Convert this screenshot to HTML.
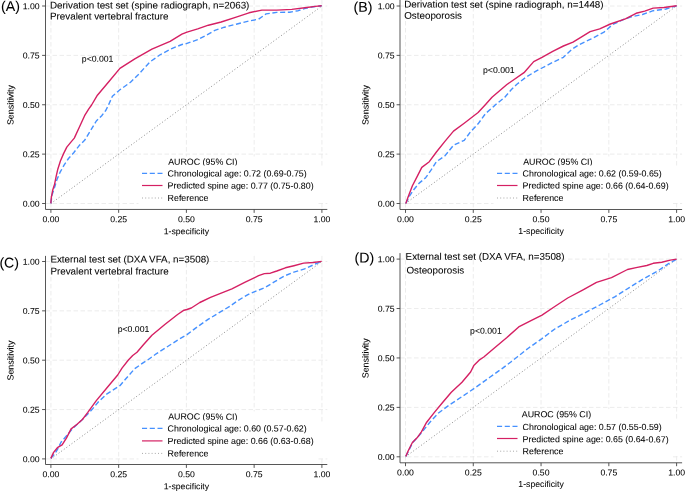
<!DOCTYPE html>
<html lang="en"><head><meta charset="utf-8"><title>ROC curves</title>
<style>html,body{margin:0;padding:0;background:#fff}svg{display:block}.t{stroke:#000;stroke-width:0.05px}</style></head>
<body>
<svg width="685" height="491" viewBox="0 0 685 491" font-family="'Liberation Sans', sans-serif" fill="#000">
<rect width="685" height="491" fill="#fff"/>
<g id="panelA">
<path d="M50.90 0.05V209.45M45.50 203.50H327.30M118.65 0.05V209.45M45.50 154.12H327.30M186.40 0.05V209.45M45.50 104.75H327.30M254.15 0.05V209.45M45.50 55.38H327.30M321.90 0.05V209.45M45.50 6.00H327.30" fill="none" stroke="#e7e7e7" stroke-width="0.8" stroke-dasharray="4.5 2.5"/>
<path d="M50.90 203.50L321.90 6.00" fill="none" stroke="#8c8c8c" stroke-width="1" stroke-dasharray="1 2.2"/>
<path d="M50.8 203.4L52.1 194.8L54.6 187.3L56.8 179.9L60.0 172.4L64.2 164.9L68.5 158.5L73.9 152.5L79.2 145.6L84.6 140.3L89.9 131.7L96.3 121.0L101.7 115.7L105.9 110.3L108.5 105.0L112.4 96.2L119.9 89.8L130.5 82.3L139.1 73.8L149.8 62.0L160.5 54.5L171.2 48.8L181.9 44.5L187.0 43.4L197.7 39.6L206.2 35.3L214.8 30.4L224.4 27.2L236.2 24.2L249.0 21.0L258.6 19.2L266.1 13.9L276.8 12.4L289.7 12.2L298.2 10.7L304.6 8.6L313.2 6.8L321.7 5.8" fill="none" stroke="#4691ff" stroke-width="1.4" stroke-dasharray="5.1 2.65" stroke-linejoin="round"/>
<path d="M50.8 203.4L51.4 197.0L52.9 189.5L54.6 184.1L56.1 176.6L57.8 169.2L60.4 161.0L63.8 153.1L66.8 147.1L70.7 142.4L74.3 138.1L79.2 127.5L84.6 115.7L88.8 108.8L91.6 105.0L97.4 95.2L109.2 81.3L119.9 68.4L134.8 58.8L151.9 49.2L170.1 41.3L181.9 34.2L187.0 32.1L197.7 28.9L208.4 25.2L221.2 22.0L236.2 17.1L249.0 12.8L261.9 10.1L276.8 10.1L291.8 9.4L306.8 7.5L315.3 6.4L321.7 5.8" fill="none" stroke="#d52063" stroke-width="1.4" stroke-linejoin="round"/>
<path d="M45.50 0.05V209.45H327.30M50.90 209.45v3.4M45.50 203.50h-3.4M118.65 209.45v3.4M45.50 154.12h-3.4M186.40 209.45v3.4M45.50 104.75h-3.4M254.15 209.45v3.4M45.50 55.38h-3.4M321.90 209.45v3.4M45.50 6.00h-3.4" fill="none" stroke="#444" stroke-width="0.9"/>
<g font-size="8.7">
<text transform="matrix(1 0.0006 0 1 50.90 222.25)" text-anchor="middle" class="t">0.00</text>
<text transform="matrix(1 0.0006 0 1 39.60 206.75)" text-anchor="end" class="t">0.00</text>
<text transform="matrix(1 0.0006 0 1 118.65 222.25)" text-anchor="middle" class="t">0.25</text>
<text transform="matrix(1 0.0006 0 1 39.60 157.38)" text-anchor="end" class="t">0.25</text>
<text transform="matrix(1 0.0006 0 1 186.40 222.25)" text-anchor="middle" class="t">0.50</text>
<text transform="matrix(1 0.0006 0 1 39.60 108.00)" text-anchor="end" class="t">0.50</text>
<text transform="matrix(1 0.0006 0 1 254.15 222.25)" text-anchor="middle" class="t">0.75</text>
<text transform="matrix(1 0.0006 0 1 39.60 58.62)" text-anchor="end" class="t">0.75</text>
<text transform="matrix(1 0.0006 0 1 321.90 222.25)" text-anchor="middle" class="t">1.00</text>
<text transform="matrix(1 0.0006 0 1 39.60 9.25)" text-anchor="end" class="t">1.00</text>
</g>
<text transform="matrix(1 0.0006 0 1 186.40 234.25)" font-size="8.7" text-anchor="middle" class="t">1-specificity</text>
<text transform="translate(13.50 105.05) rotate(-90) matrix(1 0.0006 0 1 0 0)" font-size="8.9" text-anchor="middle" class="t">Sensitivity</text>
<text transform="matrix(1.013 0.0006 0 1 50.00 8.50)" font-size="9.7" class="t">Derivation test set (spine radiograph, n=2063)</text>
<text transform="matrix(1.013 0.0006 0 1 50.00 19.40)" font-size="9.7" class="t">Prevalent vertebral fracture</text>
<text transform="matrix(1 0.0006 0 1 1.00 11.10)" font-size="14.2" fill="#000" class="t">(A)</text>
<text transform="matrix(1 0.0006 0 1 81.80 61.70)" font-size="8.7" class="t">p&lt;0.001</text>
<rect x="138.50" y="156.50" width="179" height="51.35" fill="#fff"/>
<rect x="138.50" y="167.00" width="185.5" height="35.20" fill="#fff"/>
<g font-size="8.85">
<text transform="matrix(1 0.0006 0 1 168.20 164.70)" class="t">AUROC (95% CI)</text>
<rect x="165.60" y="165.50" width="80" height="2.5" fill="#fff"/>
<text transform="matrix(1 0.0006 0 1 167.60 176.50)" class="t">Chronological age: 0.72 (0.69-0.75)</text>
<text transform="matrix(1 0.0006 0 1 167.60 188.60)" class="t">Predicted spine age: 0.77 (0.75-0.80)</text>
<text transform="matrix(1 0.0006 0 1 167.60 201.10)" class="t">Reference</text>
</g>
<path d="M142.00 173.40H162.50" stroke="#4691ff" stroke-width="1.2" stroke-dasharray="5.1 2.65" fill="none"/>
<path d="M142.00 185.50H162.50" stroke="#d52063" stroke-width="1.2" fill="none"/>
<path d="M142.00 198.00H162.50" stroke="#a8a8a8" stroke-width="1" stroke-dasharray="1 2.2" fill="none"/>
</g>
<g id="panelB">
<path d="M405.50 0.00V209.50M400.00 203.50H682.10M473.27 0.00V209.50M400.00 154.12H682.10M541.05 0.00V209.50M400.00 104.75H682.10M608.83 0.00V209.50M400.00 55.38H682.10M676.60 0.00V209.50M400.00 6.00H682.10" fill="none" stroke="#e7e7e7" stroke-width="0.8" stroke-dasharray="4.5 2.5"/>
<path d="M405.50 203.50L676.60 6.00" fill="none" stroke="#8c8c8c" stroke-width="1" stroke-dasharray="1 2.2"/>
<path d="M405.8 203.4L409.6 195.9L413.9 189.5L419.2 183.1L425.7 177.7L431.0 170.2L436.4 161.7L444.9 155.9L453.5 145.2L464.2 140.3L470.6 131.7L478.1 123.8L485.5 113.6L494.1 106.1L495.2 105.0L504.8 97.3L511.2 89.8L516.6 84.5L526.2 77.0L536.9 70.6L542.0 68.0L552.7 62.4L563.4 57.3L571.9 49.2L579.4 44.5L591.2 38.9L604.0 32.1L612.6 24.6L624.3 19.2L631.8 16.7L642.5 14.5L653.2 10.7L666.0 9.0L676.7 5.8" fill="none" stroke="#4691ff" stroke-width="1.4" stroke-dasharray="5.1 2.65" stroke-linejoin="round"/>
<path d="M405.8 203.4L408.1 197.0L412.4 185.8L417.1 176.6L421.8 167.4L429.3 161.7L436.4 152.0L444.9 141.4L453.5 131.1L464.2 123.2L478.1 112.5L485.1 105.0L492.0 97.3L506.9 84.5L524.0 72.7L533.7 61.6L542.0 57.3L552.7 51.3L563.4 46.0L573.0 42.1L581.6 36.8L590.1 31.7L599.7 28.9L610.4 24.0L625.4 18.8L636.1 13.3L644.7 11.1L653.2 8.1L663.9 7.5L676.7 5.8" fill="none" stroke="#d52063" stroke-width="1.4" stroke-linejoin="round"/>
<path d="M400.00 0.00V209.50H682.10M405.50 209.50v3.4M400.00 203.50h-3.4M473.27 209.50v3.4M400.00 154.12h-3.4M541.05 209.50v3.4M400.00 104.75h-3.4M608.83 209.50v3.4M400.00 55.38h-3.4M676.60 209.50v3.4M400.00 6.00h-3.4" fill="none" stroke="#444" stroke-width="0.9"/>
<g font-size="8.7">
<text transform="matrix(1 0.0006 0 1 405.50 222.30)" text-anchor="middle" class="t">0.00</text>
<text transform="matrix(1 0.0006 0 1 394.60 206.75)" text-anchor="end" class="t">0.00</text>
<text transform="matrix(1 0.0006 0 1 473.27 222.30)" text-anchor="middle" class="t">0.25</text>
<text transform="matrix(1 0.0006 0 1 394.60 157.38)" text-anchor="end" class="t">0.25</text>
<text transform="matrix(1 0.0006 0 1 541.05 222.30)" text-anchor="middle" class="t">0.50</text>
<text transform="matrix(1 0.0006 0 1 394.60 108.00)" text-anchor="end" class="t">0.50</text>
<text transform="matrix(1 0.0006 0 1 608.83 222.30)" text-anchor="middle" class="t">0.75</text>
<text transform="matrix(1 0.0006 0 1 394.60 58.62)" text-anchor="end" class="t">0.75</text>
<text transform="matrix(1 0.0006 0 1 676.60 222.30)" text-anchor="middle" class="t">1.00</text>
<text transform="matrix(1 0.0006 0 1 394.60 9.25)" text-anchor="end" class="t">1.00</text>
</g>
<text transform="matrix(1 0.0006 0 1 541.05 233.90)" font-size="8.7" text-anchor="middle" class="t">1-specificity</text>
<text transform="translate(368.50 105.05) rotate(-90) matrix(1 0.0006 0 1 0 0)" font-size="8.9" text-anchor="middle" class="t">Sensitivity</text>
<text transform="matrix(1.013 0.0006 0 1 404.20 7.60)" font-size="9.7" class="t">Derivation test set (spine radiograph, n=1448)</text>
<text transform="matrix(1.013 0.0006 0 1 404.20 18.70)" font-size="9.7" class="t">Osteoporosis</text>
<text transform="matrix(1 0.0006 0 1 353.50 11.70)" font-size="14.2" fill="#000" class="t">(B)</text>
<text transform="matrix(1 0.0006 0 1 483.00 73.10)" font-size="8.7" class="t">p&lt;0.001</text>
<rect x="493.50" y="156.50" width="179" height="51.40" fill="#fff"/>
<rect x="493.50" y="167.00" width="185.5" height="35.20" fill="#fff"/>
<g font-size="8.85">
<text transform="matrix(1 0.0006 0 1 523.20 164.70)" class="t">AUROC (95% CI)</text>
<rect x="520.60" y="165.50" width="80" height="2.5" fill="#fff"/>
<text transform="matrix(1 0.0006 0 1 522.60 176.50)" class="t">Chronological age: 0.62 (0.59-0.65)</text>
<text transform="matrix(1 0.0006 0 1 522.60 188.60)" class="t">Predicted spine age: 0.66 (0.64-0.69)</text>
<text transform="matrix(1 0.0006 0 1 522.60 201.10)" class="t">Reference</text>
</g>
<path d="M497.00 173.40H517.50" stroke="#4691ff" stroke-width="1.2" stroke-dasharray="5.1 2.65" fill="none"/>
<path d="M497.00 185.50H517.50" stroke="#d52063" stroke-width="1.2" fill="none"/>
<path d="M497.00 198.00H517.50" stroke="#a8a8a8" stroke-width="1" stroke-dasharray="1 2.2" fill="none"/>
</g>
<g id="panelC">
<path d="M50.90 255.90V464.50M45.50 458.90H327.30M118.65 255.90V464.50M45.50 409.55H327.30M186.40 255.90V464.50M45.50 360.20H327.30M254.15 255.90V464.50M45.50 310.85H327.30M321.90 255.90V464.50M45.50 261.50H327.30" fill="none" stroke="#e7e7e7" stroke-width="0.8" stroke-dasharray="4.5 2.5"/>
<path d="M50.90 458.90L321.90 261.50" fill="none" stroke="#8c8c8c" stroke-width="1" stroke-dasharray="1 2.2"/>
<path d="M50.8 458.4L54.6 454.1L57.8 448.8L61.0 442.3L66.4 435.9L72.8 428.4L82.4 419.5L92.0 409.6L98.5 401.7L107.0 393.8L119.9 385.7L126.3 378.2L134.8 368.6L143.4 362.6L147.7 360.0L156.2 353.8L166.9 347.0L177.6 340.1L187.0 334.6L197.7 326.6L208.4 319.2L219.1 312.7L229.8 306.3L238.3 300.3L247.9 294.6L255.4 291.4L265.1 287.5L274.7 281.7L284.3 276.0L293.9 272.1L304.6 268.9L315.3 264.0L321.7 261.4" fill="none" stroke="#4691ff" stroke-width="1.4" stroke-dasharray="5.1 2.65" stroke-linejoin="round"/>
<path d="M50.8 458.4L53.6 452.4L57.4 447.7L62.1 444.9L66.4 438.1L71.1 428.9L77.1 424.2L82.4 419.5L87.8 412.4L96.3 400.6L107.0 387.8L117.7 375.0L122.0 368.1L128.4 360.0L132.7 355.5L137.0 352.3L143.4 344.8L151.9 335.2L164.8 324.5L177.6 314.5L184.0 310.2L187.0 309.5L191.3 308.0L199.8 302.5L210.5 297.3L221.2 293.1L231.9 288.8L244.7 282.4L258.6 275.7L264.4 273.6L270.4 273.2L276.8 271.0L285.4 267.8L293.9 265.7L303.6 263.1L313.2 262.5L321.7 261.4" fill="none" stroke="#d52063" stroke-width="1.4" stroke-linejoin="round"/>
<path d="M45.50 255.90V464.50H327.30M50.90 464.50v3.4M45.50 458.90h-3.4M118.65 464.50v3.4M45.50 409.55h-3.4M186.40 464.50v3.4M45.50 360.20h-3.4M254.15 464.50v3.4M45.50 310.85h-3.4M321.90 464.50v3.4M45.50 261.50h-3.4" fill="none" stroke="#444" stroke-width="0.9"/>
<g font-size="8.7">
<text transform="matrix(1 0.0006 0 1 50.90 477.20)" text-anchor="middle" class="t">0.00</text>
<text transform="matrix(1 0.0006 0 1 39.60 462.15)" text-anchor="end" class="t">0.00</text>
<text transform="matrix(1 0.0006 0 1 118.65 477.20)" text-anchor="middle" class="t">0.25</text>
<text transform="matrix(1 0.0006 0 1 39.60 412.80)" text-anchor="end" class="t">0.25</text>
<text transform="matrix(1 0.0006 0 1 186.40 477.20)" text-anchor="middle" class="t">0.50</text>
<text transform="matrix(1 0.0006 0 1 39.60 363.45)" text-anchor="end" class="t">0.50</text>
<text transform="matrix(1 0.0006 0 1 254.15 477.20)" text-anchor="middle" class="t">0.75</text>
<text transform="matrix(1 0.0006 0 1 39.60 314.10)" text-anchor="end" class="t">0.75</text>
<text transform="matrix(1 0.0006 0 1 321.90 477.20)" text-anchor="middle" class="t">1.00</text>
<text transform="matrix(1 0.0006 0 1 39.60 264.75)" text-anchor="end" class="t">1.00</text>
</g>
<text transform="matrix(1 0.0006 0 1 186.40 489.20)" font-size="8.7" text-anchor="middle" class="t">1-specificity</text>
<text transform="translate(13.50 360.50) rotate(-90) matrix(1 0.0006 0 1 0 0)" font-size="8.9" text-anchor="middle" class="t">Sensitivity</text>
<text transform="matrix(1.013 0.0006 0 1 50.40 262.50)" font-size="9.7" class="t">External test set (DXA VFA, n=3508)</text>
<text transform="matrix(1.013 0.0006 0 1 50.40 274.50)" font-size="9.7" class="t">Prevalent vertebral fracture</text>
<text transform="matrix(1 0.0006 0 1 -0.60 267.50)" font-size="14.2" fill="#000" class="t">(C)</text>
<text transform="matrix(1 0.0006 0 1 117.70 332.00)" font-size="8.7" class="t">p&lt;0.001</text>
<rect x="138.50" y="411.40" width="179" height="51.50" fill="#fff"/>
<rect x="138.50" y="421.90" width="185.5" height="35.70" fill="#fff"/>
<g font-size="8.85">
<text transform="matrix(1 0.0006 0 1 168.20 419.60)" class="t">AUROC (95% CI)</text>
<rect x="165.60" y="420.40" width="80" height="2.5" fill="#fff"/>
<text transform="matrix(1 0.0006 0 1 167.60 431.40)" class="t">Chronological age: 0.60 (0.57-0.62)</text>
<text transform="matrix(1 0.0006 0 1 167.60 444.00)" class="t">Predicted spine age: 0.66 (0.63-0.68)</text>
<text transform="matrix(1 0.0006 0 1 167.60 456.50)" class="t">Reference</text>
</g>
<path d="M142.00 428.30H162.50" stroke="#4691ff" stroke-width="1.2" stroke-dasharray="5.1 2.65" fill="none"/>
<path d="M142.00 440.90H162.50" stroke="#d52063" stroke-width="1.2" fill="none"/>
<path d="M142.00 453.40H162.50" stroke="#a8a8a8" stroke-width="1" stroke-dasharray="1 2.2" fill="none"/>
</g>
<g id="panelD">
<path d="M405.50 253.10V462.80M400.00 456.80H682.10M473.27 253.10V462.80M400.00 407.38H682.10M541.05 253.10V462.80M400.00 357.95H682.10M608.83 253.10V462.80M400.00 308.53H682.10M676.60 253.10V462.80M400.00 259.10H682.10" fill="none" stroke="#e7e7e7" stroke-width="0.8" stroke-dasharray="4.5 2.5"/>
<path d="M405.50 456.80L676.60 259.10" fill="none" stroke="#8c8c8c" stroke-width="1" stroke-dasharray="1 2.2"/>
<path d="M405.8 456.4L412.8 442.5L421.4 432.9L429.9 422.2L438.5 413.0L449.2 405.1L462.0 396.6L474.9 388.0L489.8 377.3L502.7 368.1L511.2 361.7L517.2 357.0L528.3 348.2L542.0 338.6L554.8 329.0L569.8 320.4L584.8 312.9L599.7 305.0L614.7 296.9L629.7 287.3L642.5 279.4L657.5 271.2L668.2 263.8L676.7 259.1" fill="none" stroke="#4691ff" stroke-width="1.4" stroke-dasharray="5.1 2.65" stroke-linejoin="round"/>
<path d="M405.8 456.4L408.6 450.0L412.4 442.5L417.1 437.8L421.4 431.9L426.7 422.2L434.2 412.6L442.8 402.3L451.3 392.3L462.0 382.2L470.6 372.0L473.8 365.6L479.1 360.2L483.8 357.0L494.1 348.2L506.9 337.5L518.7 326.9L530.5 320.9L542.0 315.1L554.8 306.5L567.7 298.0L582.6 290.1L596.5 282.4L611.5 277.7L627.5 269.5L636.1 267.6L646.8 265.5L653.2 263.3L661.8 262.3L670.3 260.1L676.7 259.1" fill="none" stroke="#d52063" stroke-width="1.4" stroke-linejoin="round"/>
<path d="M400.00 253.10V462.80H682.10M405.50 462.80v3.4M400.00 456.80h-3.4M473.27 462.80v3.4M400.00 407.38h-3.4M541.05 462.80v3.4M400.00 357.95h-3.4M608.83 462.80v3.4M400.00 308.53h-3.4M676.60 462.80v3.4M400.00 259.10h-3.4" fill="none" stroke="#444" stroke-width="0.9"/>
<g font-size="8.7">
<text transform="matrix(1 0.0006 0 1 405.50 475.50)" text-anchor="middle" class="t">0.00</text>
<text transform="matrix(1 0.0006 0 1 394.60 460.05)" text-anchor="end" class="t">0.00</text>
<text transform="matrix(1 0.0006 0 1 473.27 475.50)" text-anchor="middle" class="t">0.25</text>
<text transform="matrix(1 0.0006 0 1 394.60 410.62)" text-anchor="end" class="t">0.25</text>
<text transform="matrix(1 0.0006 0 1 541.05 475.50)" text-anchor="middle" class="t">0.50</text>
<text transform="matrix(1 0.0006 0 1 394.60 361.20)" text-anchor="end" class="t">0.50</text>
<text transform="matrix(1 0.0006 0 1 608.83 475.50)" text-anchor="middle" class="t">0.75</text>
<text transform="matrix(1 0.0006 0 1 394.60 311.78)" text-anchor="end" class="t">0.75</text>
<text transform="matrix(1 0.0006 0 1 676.60 475.50)" text-anchor="middle" class="t">1.00</text>
<text transform="matrix(1 0.0006 0 1 394.60 262.35)" text-anchor="end" class="t">1.00</text>
</g>
<text transform="matrix(1 0.0006 0 1 541.05 487.00)" font-size="8.7" text-anchor="middle" class="t">1-specificity</text>
<text transform="translate(368.50 358.25) rotate(-90) matrix(1 0.0006 0 1 0 0)" font-size="8.9" text-anchor="middle" class="t">Sensitivity</text>
<text transform="matrix(1.013 0.0006 0 1 405.60 259.70)" font-size="9.7" class="t">External test set (DXA VFA, n=3508)</text>
<text transform="matrix(1.013 0.0006 0 1 406.40 273.40)" font-size="9.7" class="t">Osteoporosis</text>
<text transform="matrix(1 0.0006 0 1 354.50 262.40)" font-size="14.2" fill="#000" class="t">(D)</text>
<text transform="matrix(1 0.0006 0 1 470.10 333.70)" font-size="8.7" class="t">p&lt;0.001</text>
<rect x="493.50" y="409.10" width="179" height="52.10" fill="#fff"/>
<rect x="493.50" y="419.60" width="185.5" height="35.80" fill="#fff"/>
<g font-size="8.85">
<text transform="matrix(1 0.0006 0 1 521.80 417.30)" class="t">AUROC (95% CI)</text>
<text transform="matrix(1 0.0006 0 1 522.60 429.90)" class="t">Chronological age: 0.57 (0.55-0.59)</text>
<text transform="matrix(1 0.0006 0 1 522.60 442.30)" class="t">Predicted spine age: 0.65 (0.64-0.67)</text>
<text transform="matrix(1 0.0006 0 1 522.60 454.30)" class="t">Reference</text>
</g>
<path d="M497.00 426.30H517.50" stroke="#4691ff" stroke-width="1.2" stroke-dasharray="5.1 2.65" fill="none"/>
<path d="M497.00 438.50H517.50" stroke="#d52063" stroke-width="1.2" fill="none"/>
<path d="M497.00 451.20H517.50" stroke="#a8a8a8" stroke-width="1" stroke-dasharray="1 2.2" fill="none"/>
</g>
</svg>
</body></html>
